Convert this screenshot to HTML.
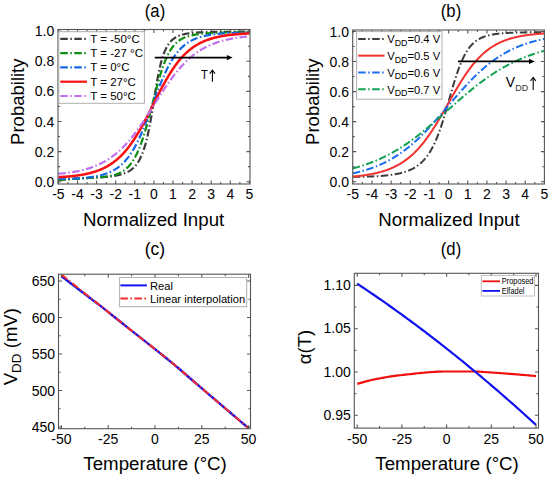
<!DOCTYPE html><html><head><meta charset="utf-8"><style>html,body{margin:0;padding:0;background:#fff;overflow:hidden;width:550px;height:479px;}svg{display:block;}</style></head><body><svg width="550" height="479" viewBox="0 0 550 479" font-family='"Liberation Sans", sans-serif'>
<rect width="550" height="479" fill="#fff"/>
<clipPath id="ca"><rect x="58" y="29.5" width="192" height="154.5"/></clipPath>
<g clip-path="url(#ca)">
<path d="M58.4,179.92 L59.2,179.85 L60,179.79 L60.8,179.73 L61.6,179.66 L62.4,179.6 L63.19,179.54 L63.99,179.47 L64.79,179.41 L65.59,179.35 L66.39,179.29 L67.19,179.23 L67.99,179.17 L68.79,179.12 L69.59,179.06 L70.39,179 L71.19,178.95 L71.99,178.89 L72.78,178.84 L73.58,178.79 L74.38,178.74 L75.18,178.69 L75.98,178.64 L76.78,178.59 L77.58,178.55 L78.38,178.5 L79.18,178.45 L79.98,178.41 L80.78,178.37 L81.58,178.32 L82.37,178.28 L83.17,178.24 L83.97,178.2 L84.77,178.16 L85.57,178.12 L86.37,178.08 L87.17,178.04 L87.97,178 L88.77,177.96 L89.57,177.92 L90.37,177.88 L91.17,177.84 L91.96,177.8 L92.76,177.76 L93.56,177.72 L94.36,177.68 L95.16,177.64 L95.96,177.59 L96.76,177.55 L97.56,177.5 L98.36,177.45 L99.16,177.4 L99.96,177.35 L100.76,177.3 L101.55,177.24 L102.35,177.19 L103.15,177.12 L103.95,177.06 L104.75,177 L105.55,176.93 L106.35,176.85 L107.15,176.78 L107.95,176.7 L108.75,176.61 L109.55,176.52 L110.35,176.43 L111.14,176.33 L111.94,176.22 L112.74,176.11 L113.54,175.99 L114.34,175.87 L115.14,175.73 L115.94,175.59 L116.74,175.44 L117.54,175.28 L118.34,175.11 L119.14,174.93 L119.94,174.74 L120.73,174.53 L121.53,174.31 L122.33,174.07 L123.13,173.81 L123.93,173.53 L124.73,173.24 L125.53,172.91 L126.33,172.57 L127.13,172.19 L127.93,171.79 L128.73,171.35 L129.53,170.87 L130.32,170.35 L131.12,169.79 L131.92,169.18 L132.72,168.51 L133.52,167.78 L134.32,166.99 L135.12,166.13 L135.92,165.18 L136.72,164.15 L137.52,163.02 L138.32,161.79 L139.12,160.44 L139.91,158.96 L140.71,157.34 L141.51,155.57 L142.31,153.63 L143.11,151.52 L143.91,149.21 L144.71,146.69 L145.51,143.95 L146.31,140.98 L147.11,137.76 L147.91,134.3 L148.71,130.57 L149.5,126.59 L150.3,122.36 L151.1,117.9 L151.9,113.21 L152.7,108.33 L153.5,103.31 L154.3,98.22 L155.1,93.15 L155.9,88.19 L156.7,83.41 L157.5,78.88 L158.3,74.64 L159.09,70.73 L159.89,67.13 L160.69,63.85 L161.49,60.85 L162.29,58.13 L163.09,55.66 L163.89,53.44 L164.69,51.42 L165.49,49.61 L166.29,47.97 L167.09,46.5 L167.89,45.17 L168.68,43.98 L169.48,42.9 L170.28,41.93 L171.08,41.05 L171.88,40.26 L172.68,39.54 L173.48,38.89 L174.28,38.3 L175.08,37.77 L175.88,37.28 L176.68,36.84 L177.48,36.44 L178.27,36.08 L179.07,35.74 L179.87,35.44 L180.67,35.16 L181.47,34.9 L182.27,34.67 L183.07,34.46 L183.87,34.26 L184.67,34.08 L185.47,33.92 L186.27,33.76 L187.07,33.62 L187.86,33.49 L188.66,33.37 L189.46,33.26 L190.26,33.16 L191.06,33.06 L191.86,32.98 L192.66,32.9 L193.46,32.82 L194.26,32.75 L195.06,32.68 L195.86,32.62 L196.66,32.57 L197.45,32.51 L198.25,32.46 L199.05,32.42 L199.85,32.37 L200.65,32.33 L201.45,32.29 L202.25,32.26 L203.05,32.23 L203.85,32.19 L204.65,32.16 L205.45,32.14 L206.25,32.11 L207.04,32.09 L207.84,32.06 L208.64,32.04 L209.44,32.02 L210.24,32 L211.04,31.98 L211.84,31.97 L212.64,31.95 L213.44,31.94 L214.24,31.92 L215.04,31.91 L215.84,31.89 L216.63,31.88 L217.43,31.87 L218.23,31.86 L219.03,31.85 L219.83,31.84 L220.63,31.83 L221.43,31.82 L222.23,31.81 L223.03,31.81 L223.83,31.8 L224.63,31.79 L225.43,31.78 L226.22,31.78 L227.02,31.77 L227.82,31.76 L228.62,31.76 L229.42,31.75 L230.22,31.75 L231.02,31.74 L231.82,31.74 L232.62,31.73 L233.42,31.73 L234.22,31.72 L235.02,31.72 L235.81,31.72 L236.61,31.71 L237.41,31.71 L238.21,31.7 L239.01,31.7 L239.81,31.7 L240.61,31.69 L241.41,31.69 L242.21,31.69 L243.01,31.68 L243.81,31.68 L244.61,31.67 L245.4,31.67 L246.2,31.67 L247,31.66 L247.8,31.66 L248.6,31.66 L249.4,31.65" stroke="#3c3c3c" stroke-width="2.2" fill="none" stroke-dasharray="7.5 2.5 1.5 2.5" stroke-linejoin="round"/>
<path d="M58.4,179.92 L59.2,179.87 L60,179.81 L60.8,179.76 L61.6,179.71 L62.4,179.65 L63.19,179.6 L63.99,179.55 L64.79,179.49 L65.59,179.44 L66.39,179.39 L67.19,179.34 L67.99,179.29 L68.79,179.23 L69.59,179.18 L70.39,179.13 L71.19,179.08 L71.99,179.03 L72.78,178.98 L73.58,178.93 L74.38,178.88 L75.18,178.84 L75.98,178.79 L76.78,178.74 L77.58,178.69 L78.38,178.64 L79.18,178.6 L79.98,178.55 L80.78,178.5 L81.58,178.45 L82.37,178.41 L83.17,178.36 L83.97,178.31 L84.77,178.26 L85.57,178.22 L86.37,178.17 L87.17,178.12 L87.97,178.07 L88.77,178.02 L89.57,177.97 L90.37,177.92 L91.17,177.87 L91.96,177.82 L92.76,177.76 L93.56,177.71 L94.36,177.66 L95.16,177.6 L95.96,177.54 L96.76,177.48 L97.56,177.42 L98.36,177.36 L99.16,177.29 L99.96,177.22 L100.76,177.15 L101.55,177.08 L102.35,177 L103.15,176.92 L103.95,176.83 L104.75,176.74 L105.55,176.64 L106.35,176.53 L107.15,176.42 L107.95,176.3 L108.75,176.17 L109.55,176.03 L110.35,175.88 L111.14,175.72 L111.94,175.55 L112.74,175.36 L113.54,175.16 L114.34,174.94 L115.14,174.71 L115.94,174.45 L116.74,174.18 L117.54,173.88 L118.34,173.55 L119.14,173.21 L119.94,172.83 L120.73,172.42 L121.53,171.99 L122.33,171.52 L123.13,171.01 L123.93,170.46 L124.73,169.88 L125.53,169.25 L126.33,168.57 L127.13,167.85 L127.93,167.07 L128.73,166.23 L129.53,165.34 L130.32,164.38 L131.12,163.36 L131.92,162.26 L132.72,161.09 L133.52,159.85 L134.32,158.52 L135.12,157.1 L135.92,155.6 L136.72,154 L137.52,152.31 L138.32,150.52 L139.12,148.63 L139.91,146.64 L140.71,144.54 L141.51,142.35 L142.31,140.04 L143.11,137.64 L143.91,135.14 L144.71,132.54 L145.51,129.86 L146.31,127.08 L147.11,124.23 L147.91,121.3 L148.71,118.32 L149.5,115.28 L150.3,112.2 L151.1,109.08 L151.9,105.95 L152.7,102.81 L153.5,99.68 L154.3,96.56 L155.1,93.47 L155.9,90.42 L156.7,87.42 L157.5,84.49 L158.3,81.62 L159.09,78.84 L159.89,76.14 L160.69,73.53 L161.49,71.02 L162.29,68.62 L163.09,66.32 L163.89,64.13 L164.69,62.05 L165.49,60.08 L166.29,58.22 L167.09,56.46 L167.89,54.81 L168.68,53.26 L169.48,51.81 L170.28,50.45 L171.08,49.19 L171.88,48.01 L172.68,46.91 L173.48,45.89 L174.28,44.94 L175.08,44.07 L175.88,43.25 L176.68,42.5 L177.48,41.8 L178.27,41.16 L179.07,40.56 L179.87,40.01 L180.67,39.51 L181.47,39.04 L182.27,38.61 L183.07,38.21 L183.87,37.84 L184.67,37.49 L185.47,37.17 L186.27,36.88 L187.07,36.6 L187.86,36.35 L188.66,36.11 L189.46,35.88 L190.26,35.68 L191.06,35.48 L191.86,35.3 L192.66,35.14 L193.46,34.98 L194.26,34.83 L195.06,34.69 L195.86,34.56 L196.66,34.44 L197.45,34.33 L198.25,34.22 L199.05,34.12 L199.85,34.02 L200.65,33.93 L201.45,33.85 L202.25,33.77 L203.05,33.69 L203.85,33.62 L204.65,33.55 L205.45,33.49 L206.25,33.42 L207.04,33.37 L207.84,33.31 L208.64,33.26 L209.44,33.21 L210.24,33.16 L211.04,33.12 L211.84,33.07 L212.64,33.03 L213.44,32.99 L214.24,32.95 L215.04,32.92 L215.84,32.88 L216.63,32.85 L217.43,32.82 L218.23,32.79 L219.03,32.76 L219.83,32.73 L220.63,32.7 L221.43,32.67 L222.23,32.65 L223.03,32.62 L223.83,32.6 L224.63,32.57 L225.43,32.55 L226.22,32.52 L227.02,32.5 L227.82,32.48 L228.62,32.46 L229.42,32.44 L230.22,32.42 L231.02,32.4 L231.82,32.38 L232.62,32.36 L233.42,32.34 L234.22,32.32 L235.02,32.3 L235.81,32.28 L236.61,32.26 L237.41,32.24 L238.21,32.22 L239.01,32.2 L239.81,32.18 L240.61,32.16 L241.41,32.14 L242.21,32.12 L243.01,32.11 L243.81,32.09 L244.61,32.07 L245.4,32.05 L246.2,32.03 L247,32.01 L247.8,31.99 L248.6,31.97 L249.4,31.95" stroke="#0f8f0f" stroke-width="2.2" fill="none" stroke-dasharray="7.5 2.5 1.5 2.5" stroke-linejoin="round"/>
<path d="M58.4,178.75 L59.2,178.76 L60,178.77 L60.8,178.77 L61.6,178.77 L62.4,178.77 L63.19,178.77 L63.99,178.77 L64.79,178.76 L65.59,178.75 L66.39,178.74 L67.19,178.73 L67.99,178.71 L68.79,178.7 L69.59,178.68 L70.39,178.65 L71.19,178.63 L71.99,178.6 L72.78,178.57 L73.58,178.54 L74.38,178.51 L75.18,178.47 L75.98,178.44 L76.78,178.39 L77.58,178.35 L78.38,178.3 L79.18,178.25 L79.98,178.2 L80.78,178.14 L81.58,178.08 L82.37,178.02 L83.17,177.96 L83.97,177.89 L84.77,177.81 L85.57,177.73 L86.37,177.65 L87.17,177.57 L87.97,177.48 L88.77,177.38 L89.57,177.28 L90.37,177.18 L91.17,177.07 L91.96,176.95 L92.76,176.83 L93.56,176.7 L94.36,176.57 L95.16,176.42 L95.96,176.28 L96.76,176.12 L97.56,175.96 L98.36,175.79 L99.16,175.61 L99.96,175.42 L100.76,175.22 L101.55,175.01 L102.35,174.8 L103.15,174.57 L103.95,174.33 L104.75,174.07 L105.55,173.81 L106.35,173.53 L107.15,173.24 L107.95,172.93 L108.75,172.61 L109.55,172.27 L110.35,171.91 L111.14,171.54 L111.94,171.15 L112.74,170.73 L113.54,170.3 L114.34,169.85 L115.14,169.37 L115.94,168.86 L116.74,168.34 L117.54,167.78 L118.34,167.2 L119.14,166.59 L119.94,165.95 L120.73,165.27 L121.53,164.57 L122.33,163.83 L123.13,163.06 L123.93,162.25 L124.73,161.4 L125.53,160.51 L126.33,159.58 L127.13,158.62 L127.93,157.6 L128.73,156.55 L129.53,155.45 L130.32,154.3 L131.12,153.11 L131.92,151.87 L132.72,150.58 L133.52,149.24 L134.32,147.86 L135.12,146.42 L135.92,144.93 L136.72,143.39 L137.52,141.81 L138.32,140.17 L139.12,138.49 L139.91,136.76 L140.71,134.98 L141.51,133.15 L142.31,131.29 L143.11,129.38 L143.91,127.43 L144.71,125.44 L145.51,123.43 L146.31,121.38 L147.11,119.3 L147.91,117.19 L148.71,115.07 L149.5,112.92 L150.3,110.77 L151.1,108.6 L151.9,106.43 L152.7,104.25 L153.5,102.08 L154.3,99.91 L155.1,97.75 L155.9,95.61 L156.7,93.48 L157.5,91.38 L158.3,89.3 L159.09,87.25 L159.89,85.23 L160.69,83.24 L161.49,81.3 L162.29,79.39 L163.09,77.52 L163.89,75.7 L164.69,73.92 L165.49,72.2 L166.29,70.51 L167.09,68.88 L167.89,67.3 L168.68,65.77 L169.48,64.29 L170.28,62.86 L171.08,61.48 L171.88,60.15 L172.68,58.87 L173.48,57.64 L174.28,56.46 L175.08,55.33 L175.88,54.24 L176.68,53.2 L177.48,52.2 L178.27,51.24 L179.07,50.33 L179.87,49.46 L180.67,48.63 L181.47,47.83 L182.27,47.07 L183.07,46.35 L183.87,45.66 L184.67,45.01 L185.47,44.38 L186.27,43.79 L187.07,43.23 L187.86,42.69 L188.66,42.18 L189.46,41.69 L190.26,41.23 L191.06,40.79 L191.86,40.37 L192.66,39.98 L193.46,39.6 L194.26,39.25 L195.06,38.91 L195.86,38.58 L196.66,38.28 L197.45,37.99 L198.25,37.71 L199.05,37.45 L199.85,37.2 L200.65,36.96 L201.45,36.74 L202.25,36.52 L203.05,36.32 L203.85,36.13 L204.65,35.94 L205.45,35.77 L206.25,35.6 L207.04,35.45 L207.84,35.3 L208.64,35.15 L209.44,35.02 L210.24,34.89 L211.04,34.77 L211.84,34.65 L212.64,34.54 L213.44,34.44 L214.24,34.34 L215.04,34.24 L215.84,34.15 L216.63,34.06 L217.43,33.98 L218.23,33.9 L219.03,33.83 L219.83,33.76 L220.63,33.69 L221.43,33.63 L222.23,33.57 L223.03,33.51 L223.83,33.46 L224.63,33.4 L225.43,33.36 L226.22,33.31 L227.02,33.26 L227.82,33.22 L228.62,33.18 L229.42,33.15 L230.22,33.11 L231.02,33.08 L231.82,33.05 L232.62,33.02 L233.42,32.99 L234.22,32.96 L235.02,32.94 L235.81,32.92 L236.61,32.9 L237.41,32.88 L238.21,32.86 L239.01,32.84 L239.81,32.83 L240.61,32.81 L241.41,32.8 L242.21,32.79 L243.01,32.78 L243.81,32.77 L244.61,32.76 L245.4,32.76 L246.2,32.75 L247,32.75 L247.8,32.75 L248.6,32.75 L249.4,32.75" stroke="#1668e6" stroke-width="2.2" fill="none" stroke-dasharray="7.5 2.5 1.5 2.5" stroke-linejoin="round"/>
<path d="M58.4,177.08 L59.2,177.05 L60,177.01 L60.8,176.98 L61.6,176.94 L62.4,176.9 L63.19,176.85 L63.99,176.8 L64.79,176.75 L65.59,176.7 L66.39,176.64 L67.19,176.58 L67.99,176.52 L68.79,176.45 L69.59,176.38 L70.39,176.31 L71.19,176.23 L71.99,176.15 L72.78,176.07 L73.58,175.98 L74.38,175.89 L75.18,175.79 L75.98,175.69 L76.78,175.58 L77.58,175.47 L78.38,175.36 L79.18,175.24 L79.98,175.12 L80.78,174.99 L81.58,174.86 L82.37,174.72 L83.17,174.57 L83.97,174.42 L84.77,174.26 L85.57,174.1 L86.37,173.93 L87.17,173.75 L87.97,173.57 L88.77,173.38 L89.57,173.18 L90.37,172.98 L91.17,172.76 L91.96,172.54 L92.76,172.31 L93.56,172.07 L94.36,171.83 L95.16,171.57 L95.96,171.3 L96.76,171.03 L97.56,170.74 L98.36,170.44 L99.16,170.14 L99.96,169.82 L100.76,169.48 L101.55,169.14 L102.35,168.78 L103.15,168.41 L103.95,168.03 L104.75,167.63 L105.55,167.22 L106.35,166.8 L107.15,166.36 L107.95,165.9 L108.75,165.43 L109.55,164.94 L110.35,164.43 L111.14,163.91 L111.94,163.36 L112.74,162.8 L113.54,162.22 L114.34,161.62 L115.14,161 L115.94,160.36 L116.74,159.7 L117.54,159.02 L118.34,158.32 L119.14,157.59 L119.94,156.84 L120.73,156.06 L121.53,155.27 L122.33,154.45 L123.13,153.6 L123.93,152.73 L124.73,151.83 L125.53,150.91 L126.33,149.96 L127.13,148.99 L127.93,147.99 L128.73,146.96 L129.53,145.91 L130.32,144.83 L131.12,143.72 L131.92,142.59 L132.72,141.43 L133.52,140.25 L134.32,139.04 L135.12,137.8 L135.92,136.54 L136.72,135.25 L137.52,133.94 L138.32,132.6 L139.12,131.25 L139.91,129.86 L140.71,128.46 L141.51,127.04 L142.31,125.6 L143.11,124.14 L143.91,122.66 L144.71,121.16 L145.51,119.65 L146.31,118.12 L147.11,116.58 L147.91,115.03 L148.71,113.47 L149.5,111.91 L150.3,110.33 L151.1,108.75 L151.9,107.16 L152.7,105.57 L153.5,103.99 L154.3,102.4 L155.1,100.81 L155.9,99.23 L156.7,97.65 L157.5,96.08 L158.3,94.52 L159.09,92.97 L159.89,91.43 L160.69,89.9 L161.49,88.39 L162.29,86.89 L163.09,85.41 L163.89,83.94 L164.69,82.5 L165.49,81.08 L166.29,79.67 L167.09,78.29 L167.89,76.93 L168.68,75.6 L169.48,74.29 L170.28,73 L171.08,71.74 L171.88,70.5 L172.68,69.3 L173.48,68.11 L174.28,66.96 L175.08,65.83 L175.88,64.73 L176.68,63.66 L177.48,62.61 L178.27,61.59 L179.07,60.6 L179.87,59.63 L180.67,58.7 L181.47,57.78 L182.27,56.9 L183.07,56.04 L183.87,55.2 L184.67,54.4 L185.47,53.61 L186.27,52.85 L187.07,52.12 L187.86,51.41 L188.66,50.72 L189.46,50.05 L190.26,49.41 L191.06,48.78 L191.86,48.18 L192.66,47.6 L193.46,47.04 L194.26,46.5 L195.06,45.98 L195.86,45.47 L196.66,44.99 L197.45,44.52 L198.25,44.06 L199.05,43.63 L199.85,43.21 L200.65,42.8 L201.45,42.41 L202.25,42.04 L203.05,41.67 L203.85,41.33 L204.65,40.99 L205.45,40.67 L206.25,40.36 L207.04,40.06 L207.84,39.77 L208.64,39.49 L209.44,39.22 L210.24,38.97 L211.04,38.72 L211.84,38.48 L212.64,38.25 L213.44,38.03 L214.24,37.82 L215.04,37.62 L215.84,37.42 L216.63,37.23 L217.43,37.05 L218.23,36.88 L219.03,36.71 L219.83,36.55 L220.63,36.39 L221.43,36.24 L222.23,36.1 L223.03,35.96 L223.83,35.83 L224.63,35.7 L225.43,35.58 L226.22,35.46 L227.02,35.34 L227.82,35.24 L228.62,35.13 L229.42,35.03 L230.22,34.93 L231.02,34.84 L231.82,34.75 L232.62,34.66 L233.42,34.58 L234.22,34.5 L235.02,34.42 L235.81,34.35 L236.61,34.28 L237.41,34.21 L238.21,34.15 L239.01,34.08 L239.81,34.02 L240.61,33.96 L241.41,33.91 L242.21,33.86 L243.01,33.8 L243.81,33.75 L244.61,33.71 L245.4,33.66 L246.2,33.62 L247,33.58 L247.8,33.54 L248.6,33.5 L249.4,33.46" stroke="#fa1010" stroke-width="2.5" fill="none" stroke-linejoin="round"/>
<path d="M58.4,173.74 L59.2,173.68 L60,173.62 L60.8,173.55 L61.6,173.48 L62.4,173.41 L63.19,173.33 L63.99,173.25 L64.79,173.16 L65.59,173.08 L66.39,172.98 L67.19,172.89 L67.99,172.79 L68.79,172.68 L69.59,172.57 L70.39,172.46 L71.19,172.34 L71.99,172.22 L72.78,172.09 L73.58,171.96 L74.38,171.82 L75.18,171.68 L75.98,171.53 L76.78,171.38 L77.58,171.22 L78.38,171.06 L79.18,170.89 L79.98,170.71 L80.78,170.53 L81.58,170.34 L82.37,170.15 L83.17,169.95 L83.97,169.74 L84.77,169.53 L85.57,169.31 L86.37,169.08 L87.17,168.85 L87.97,168.61 L88.77,168.36 L89.57,168.1 L90.37,167.84 L91.17,167.56 L91.96,167.28 L92.76,166.99 L93.56,166.69 L94.36,166.38 L95.16,166.06 L95.96,165.74 L96.76,165.4 L97.56,165.05 L98.36,164.69 L99.16,164.33 L99.96,163.95 L100.76,163.56 L101.55,163.16 L102.35,162.74 L103.15,162.32 L103.95,161.88 L104.75,161.43 L105.55,160.97 L106.35,160.5 L107.15,160.01 L107.95,159.51 L108.75,159 L109.55,158.47 L110.35,157.92 L111.14,157.37 L111.94,156.8 L112.74,156.21 L113.54,155.61 L114.34,154.99 L115.14,154.36 L115.94,153.71 L116.74,153.05 L117.54,152.37 L118.34,151.68 L119.14,150.96 L119.94,150.23 L120.73,149.49 L121.53,148.73 L122.33,147.95 L123.13,147.15 L123.93,146.34 L124.73,145.51 L125.53,144.66 L126.33,143.79 L127.13,142.91 L127.93,142.01 L128.73,141.09 L129.53,140.16 L130.32,139.21 L131.12,138.24 L131.92,137.25 L132.72,136.25 L133.52,135.23 L134.32,134.2 L135.12,133.15 L135.92,132.09 L136.72,131.01 L137.52,129.91 L138.32,128.8 L139.12,127.68 L139.91,126.54 L140.71,125.39 L141.51,124.23 L142.31,123.06 L143.11,121.88 L143.91,120.68 L144.71,119.48 L145.51,118.26 L146.31,117.04 L147.11,115.81 L147.91,114.57 L148.71,113.33 L149.5,112.08 L150.3,110.82 L151.1,109.56 L151.9,108.3 L152.7,107.04 L153.5,105.77 L154.3,104.51 L155.1,103.24 L155.9,101.98 L156.7,100.71 L157.5,99.45 L158.3,98.19 L159.09,96.94 L159.89,95.69 L160.69,94.45 L161.49,93.22 L162.29,91.99 L163.09,90.77 L163.89,89.56 L164.69,88.36 L165.49,87.17 L166.29,85.99 L167.09,84.82 L167.89,83.66 L168.68,82.52 L169.48,81.39 L170.28,80.27 L171.08,79.17 L171.88,78.08 L172.68,77.01 L173.48,75.95 L174.28,74.91 L175.08,73.89 L175.88,72.88 L176.68,71.88 L177.48,70.91 L178.27,69.95 L179.07,69.01 L179.87,68.09 L180.67,67.18 L181.47,66.29 L182.27,65.42 L183.07,64.57 L183.87,63.73 L184.67,62.91 L185.47,62.11 L186.27,61.33 L187.07,60.56 L187.86,59.82 L188.66,59.08 L189.46,58.37 L190.26,57.67 L191.06,56.99 L191.86,56.33 L192.66,55.68 L193.46,55.05 L194.26,54.43 L195.06,53.83 L195.86,53.25 L196.66,52.68 L197.45,52.12 L198.25,51.58 L199.05,51.06 L199.85,50.54 L200.65,50.05 L201.45,49.56 L202.25,49.09 L203.05,48.63 L203.85,48.19 L204.65,47.76 L205.45,47.34 L206.25,46.93 L207.04,46.53 L207.84,46.15 L208.64,45.77 L209.44,45.41 L210.24,45.06 L211.04,44.71 L211.84,44.38 L212.64,44.06 L213.44,43.75 L214.24,43.44 L215.04,43.15 L215.84,42.86 L216.63,42.58 L217.43,42.32 L218.23,42.06 L219.03,41.8 L219.83,41.56 L220.63,41.32 L221.43,41.09 L222.23,40.87 L223.03,40.65 L223.83,40.44 L224.63,40.24 L225.43,40.04 L226.22,39.85 L227.02,39.67 L227.82,39.49 L228.62,39.31 L229.42,39.15 L230.22,38.98 L231.02,38.83 L231.82,38.67 L232.62,38.53 L233.42,38.38 L234.22,38.25 L235.02,38.11 L235.81,37.98 L236.61,37.86 L237.41,37.74 L238.21,37.62 L239.01,37.51 L239.81,37.4 L240.61,37.29 L241.41,37.19 L242.21,37.09 L243.01,37 L243.81,36.9 L244.61,36.81 L245.4,36.73 L246.2,36.65 L247,36.57 L247.8,36.49 L248.6,36.42 L249.4,36.34" stroke="#c070f0" stroke-width="2.2" fill="none" stroke-dasharray="7.5 2.5 1.5 2.5" stroke-linejoin="round"/>
</g>
<rect x="58" y="29.5" width="192" height="154.5" fill="none" stroke="#555555" stroke-width="1.1"/>
<path d="M58.4,184v-3.5M58.4,29.5v3.5M77.5,184v-3.5M77.5,29.5v3.5M96.6,184v-3.5M96.6,29.5v3.5M115.7,184v-3.5M115.7,29.5v3.5M134.8,184v-3.5M134.8,29.5v3.5M153.9,184v-3.5M153.9,29.5v3.5M173,184v-3.5M173,29.5v3.5M192.1,184v-3.5M192.1,29.5v3.5M211.2,184v-3.5M211.2,29.5v3.5M230.3,184v-3.5M230.3,29.5v3.5M249.4,184v-3.5M249.4,29.5v3.5M67.95,184v-2M67.95,29.5v2M87.05,184v-2M87.05,29.5v2M106.15,184v-2M106.15,29.5v2M125.25,184v-2M125.25,29.5v2M144.35,184v-2M144.35,29.5v2M163.45,184v-2M163.45,29.5v2M182.55,184v-2M182.55,29.5v2M201.65,184v-2M201.65,29.5v2M220.75,184v-2M220.75,29.5v2M239.85,184v-2M239.85,29.5v2M58,181.7h3.5M250,181.7h-3.5M58,151.6h3.5M250,151.6h-3.5M58,121.5h3.5M250,121.5h-3.5M58,91.4h3.5M250,91.4h-3.5M58,61.3h3.5M250,61.3h-3.5M58,31.2h3.5M250,31.2h-3.5M58,166.65h2M250,166.65h-2M58,136.55h2M250,136.55h-2M58,106.45h2M250,106.45h-2M58,76.35h2M250,76.35h-2M58,46.25h2M250,46.25h-2" stroke="#555555" stroke-width="1.1" fill="none"/>
<text x="58.4" y="199.3" font-size="14" text-anchor="middle" fill="#000" >-5</text>
<text x="77.5" y="199.3" font-size="14" text-anchor="middle" fill="#000" >-4</text>
<text x="96.6" y="199.3" font-size="14" text-anchor="middle" fill="#000" >-3</text>
<text x="115.7" y="199.3" font-size="14" text-anchor="middle" fill="#000" >-2</text>
<text x="134.8" y="199.3" font-size="14" text-anchor="middle" fill="#000" >-1</text>
<text x="153.9" y="199.3" font-size="14" text-anchor="middle" fill="#000" >0</text>
<text x="173" y="199.3" font-size="14" text-anchor="middle" fill="#000" >1</text>
<text x="192.1" y="199.3" font-size="14" text-anchor="middle" fill="#000" >2</text>
<text x="211.2" y="199.3" font-size="14" text-anchor="middle" fill="#000" >3</text>
<text x="230.3" y="199.3" font-size="14" text-anchor="middle" fill="#000" >4</text>
<text x="249.4" y="199.3" font-size="14" text-anchor="middle" fill="#000" >5</text>
<text x="54.3" y="186.7" font-size="14" text-anchor="end" fill="#000" >0.0</text>
<text x="54.3" y="156.6" font-size="14" text-anchor="end" fill="#000" >0.2</text>
<text x="54.3" y="126.5" font-size="14" text-anchor="end" fill="#000" >0.4</text>
<text x="54.3" y="96.4" font-size="14" text-anchor="end" fill="#000" >0.6</text>
<text x="54.3" y="66.3" font-size="14" text-anchor="end" fill="#000" >0.8</text>
<text x="54.3" y="36.2" font-size="14" text-anchor="end" fill="#000" >1.0</text>
<text x="153.6" y="225.5" font-size="18.7" text-anchor="middle" fill="#000" >Normalized Input</text>
<text transform="translate(23.5,101.7) rotate(-90)" font-size="18.5" text-anchor="middle">Probability</text>
<text x="155" y="16.9" font-size="18" text-anchor="middle" fill="#000" textLength="20.4" lengthAdjust="spacingAndGlyphs">(a)</text>
<rect x="58.8" y="31.7" width="85.6" height="71.6" fill="#fff" stroke="#b0b0b0" stroke-width="1"/>
<path d="M60.3,38.8H87" stroke="#3c3c3c" stroke-width="2.2" stroke-dasharray="7.5 2.5 1.5 2.5"/>
<text x="90.3" y="42.8" font-size="11.5" text-anchor="start" fill="#000" >T = -50°C</text>
<path d="M60.3,53.1H87" stroke="#0f8f0f" stroke-width="2.2" stroke-dasharray="7.5 2.5 1.5 2.5"/>
<text x="90.3" y="57.1" font-size="11.5" text-anchor="start" fill="#000" >T = -27 °C</text>
<path d="M60.3,67.4H87" stroke="#1668e6" stroke-width="2.2" stroke-dasharray="7.5 2.5 1.5 2.5"/>
<text x="90.3" y="71.4" font-size="11.5" text-anchor="start" fill="#000" >T = 0°C</text>
<path d="M60.3,81.7H87" stroke="#fa1010" stroke-width="2.2"/>
<text x="90.3" y="85.7" font-size="11.5" text-anchor="start" fill="#000" >T = 27°C</text>
<path d="M60.3,96H87" stroke="#c070f0" stroke-width="2.2" stroke-dasharray="7.5 2.5 1.5 2.5"/>
<text x="90.3" y="100" font-size="11.5" text-anchor="start" fill="#000" >T = 50°C</text>
<path d="M154.8,57.6H228" stroke="#000" stroke-width="1.9"/>
<path d="M226.8,55L232.6,57.6L226.8,60.2Z" fill="#000"/>
<text x="201" y="78.8" font-size="13.5" text-anchor="start" fill="#000" textLength="6.8" lengthAdjust="spacingAndGlyphs">T</text>
<path d="M212.4,81.8V71" stroke="#000" stroke-width="1.1"/><path d="M209.8,73.6L212.4,70.2L215,73.6" stroke="#000" stroke-width="1.1" fill="none"/>
<clipPath id="cb"><rect x="352.7" y="30" width="191.7" height="154"/></clipPath>
<g clip-path="url(#cb)">
<path d="M352.8,176.73 L353.6,176.73 L354.4,176.73 L355.21,176.73 L356.01,176.72 L356.81,176.72 L357.61,176.72 L358.41,176.71 L359.21,176.71 L360.02,176.7 L360.82,176.69 L361.62,176.68 L362.42,176.67 L363.22,176.66 L364.02,176.65 L364.83,176.63 L365.63,176.62 L366.43,176.6 L367.23,176.58 L368.03,176.56 L368.83,176.54 L369.64,176.51 L370.44,176.49 L371.24,176.46 L372.04,176.43 L372.84,176.4 L373.64,176.36 L374.45,176.33 L375.25,176.29 L376.05,176.25 L376.85,176.2 L377.65,176.16 L378.45,176.11 L379.26,176.06 L380.06,176 L380.86,175.94 L381.66,175.88 L382.46,175.82 L383.26,175.75 L384.07,175.68 L384.87,175.61 L385.67,175.53 L386.47,175.45 L387.27,175.36 L388.07,175.27 L388.88,175.18 L389.68,175.08 L390.48,174.97 L391.28,174.86 L392.08,174.75 L392.88,174.63 L393.69,174.5 L394.49,174.37 L395.29,174.23 L396.09,174.08 L396.89,173.92 L397.69,173.76 L398.5,173.59 L399.3,173.41 L400.1,173.23 L400.9,173.03 L401.7,172.82 L402.5,172.61 L403.31,172.38 L404.11,172.14 L404.91,171.89 L405.71,171.62 L406.51,171.35 L407.31,171.05 L408.12,170.75 L408.92,170.42 L409.72,170.08 L410.52,169.73 L411.32,169.35 L412.12,168.96 L412.93,168.54 L413.73,168.1 L414.53,167.64 L415.33,167.15 L416.13,166.64 L416.93,166.1 L417.74,165.53 L418.54,164.93 L419.34,164.3 L420.14,163.63 L420.94,162.93 L421.74,162.19 L422.55,161.4 L423.35,160.58 L424.15,159.71 L424.95,158.8 L425.75,157.83 L426.55,156.82 L427.36,155.74 L428.16,154.62 L428.96,153.43 L429.76,152.18 L430.56,150.86 L431.36,149.48 L432.17,148.03 L432.97,146.5 L433.77,144.9 L434.57,143.22 L435.37,141.46 L436.17,139.62 L436.98,137.7 L437.78,135.7 L438.58,133.61 L439.38,131.43 L440.18,129.17 L440.98,126.83 L441.79,124.41 L442.59,121.92 L443.39,119.36 L444.19,116.74 L444.99,114.07 L445.79,111.34 L446.6,108.58 L447.4,105.79 L448.2,102.98 L449,100.16 L449.8,97.33 L450.6,94.52 L451.41,91.73 L452.21,88.97 L453.01,86.24 L453.81,83.57 L454.61,80.95 L455.41,78.39 L456.22,75.91 L457.02,73.5 L457.82,71.17 L458.62,68.93 L459.42,66.78 L460.22,64.72 L461.03,62.75 L461.83,60.87 L462.63,59.09 L463.43,57.4 L464.23,55.79 L465.03,54.28 L465.84,52.86 L466.64,51.52 L467.44,50.26 L468.24,49.08 L469.04,47.97 L469.84,46.94 L470.65,45.97 L471.45,45.07 L472.25,44.23 L473.05,43.44 L473.85,42.71 L474.65,42.02 L475.46,41.39 L476.26,40.79 L477.06,40.24 L477.86,39.72 L478.66,39.24 L479.46,38.79 L480.27,38.37 L481.07,37.98 L481.87,37.61 L482.67,37.27 L483.47,36.95 L484.27,36.65 L485.08,36.38 L485.88,36.12 L486.68,35.87 L487.48,35.65 L488.28,35.43 L489.08,35.24 L489.89,35.05 L490.69,34.88 L491.49,34.71 L492.29,34.56 L493.09,34.42 L493.89,34.28 L494.7,34.16 L495.5,34.04 L496.3,33.93 L497.1,33.83 L497.9,33.73 L498.7,33.64 L499.51,33.55 L500.31,33.47 L501.11,33.39 L501.91,33.32 L502.71,33.26 L503.51,33.19 L504.32,33.13 L505.12,33.08 L505.92,33.02 L506.72,32.97 L507.52,32.93 L508.32,32.88 L509.13,32.84 L509.93,32.8 L510.73,32.77 L511.53,32.73 L512.33,32.7 L513.13,32.67 L513.94,32.64 L514.74,32.61 L515.54,32.59 L516.34,32.56 L517.14,32.54 L517.94,32.52 L518.75,32.5 L519.55,32.48 L520.35,32.47 L521.15,32.45 L521.95,32.44 L522.75,32.42 L523.56,32.41 L524.36,32.4 L525.16,32.39 L525.96,32.38 L526.76,32.37 L527.56,32.37 L528.37,32.36 L529.17,32.36 L529.97,32.35 L530.77,32.35 L531.57,32.34 L532.37,32.34 L533.18,32.34 L533.98,32.34 L534.78,32.34 L535.58,32.34 L536.38,32.35 L537.18,32.35 L537.99,32.36 L538.79,32.36 L539.59,32.37 L540.39,32.37 L541.19,32.38 L541.99,32.39 L542.8,32.4 L543.6,32.41 L544.4,32.43" stroke="#3c3c3c" stroke-width="2.0" fill="none" stroke-dasharray="7.5 2.5 1.5 2.5" stroke-linejoin="round"/>
<path d="M352.8,176.63 L353.6,176.56 L354.4,176.48 L355.21,176.41 L356.01,176.33 L356.81,176.24 L357.61,176.16 L358.41,176.07 L359.21,175.98 L360.02,175.88 L360.82,175.78 L361.62,175.68 L362.42,175.58 L363.22,175.47 L364.02,175.35 L364.83,175.24 L365.63,175.12 L366.43,174.99 L367.23,174.86 L368.03,174.73 L368.83,174.59 L369.64,174.45 L370.44,174.3 L371.24,174.15 L372.04,174 L372.84,173.83 L373.64,173.67 L374.45,173.5 L375.25,173.32 L376.05,173.13 L376.85,172.94 L377.65,172.75 L378.45,172.54 L379.26,172.33 L380.06,172.12 L380.86,171.89 L381.66,171.66 L382.46,171.43 L383.26,171.18 L384.07,170.93 L384.87,170.67 L385.67,170.4 L386.47,170.12 L387.27,169.83 L388.07,169.53 L388.88,169.23 L389.68,168.91 L390.48,168.59 L391.28,168.25 L392.08,167.9 L392.88,167.55 L393.69,167.18 L394.49,166.8 L395.29,166.41 L396.09,166 L396.89,165.59 L397.69,165.16 L398.5,164.72 L399.3,164.26 L400.1,163.79 L400.9,163.31 L401.7,162.81 L402.5,162.3 L403.31,161.77 L404.11,161.23 L404.91,160.67 L405.71,160.1 L406.51,159.5 L407.31,158.9 L408.12,158.27 L408.92,157.63 L409.72,156.97 L410.52,156.29 L411.32,155.59 L412.12,154.88 L412.93,154.15 L413.73,153.39 L414.53,152.62 L415.33,151.83 L416.13,151.01 L416.93,150.18 L417.74,149.33 L418.54,148.46 L419.34,147.56 L420.14,146.65 L420.94,145.71 L421.74,144.76 L422.55,143.78 L423.35,142.79 L424.15,141.77 L424.95,140.73 L425.75,139.67 L426.55,138.59 L427.36,137.49 L428.16,136.37 L428.96,135.23 L429.76,134.08 L430.56,132.9 L431.36,131.7 L432.17,130.49 L432.97,129.26 L433.77,128.01 L434.57,126.75 L435.37,125.47 L436.17,124.17 L436.98,122.86 L437.78,121.54 L438.58,120.2 L439.38,118.85 L440.18,117.49 L440.98,116.12 L441.79,114.74 L442.59,113.35 L443.39,111.96 L444.19,110.56 L444.99,109.15 L445.79,107.74 L446.6,106.32 L447.4,104.91 L448.2,103.49 L449,102.07 L449.8,100.66 L450.6,99.24 L451.41,97.83 L452.21,96.43 L453.01,95.03 L453.81,93.63 L454.61,92.25 L455.41,90.87 L456.22,89.5 L457.02,88.15 L457.82,86.8 L458.62,85.47 L459.42,84.15 L460.22,82.85 L461.03,81.56 L461.83,80.28 L462.63,79.02 L463.43,77.78 L464.23,76.56 L465.03,75.36 L465.84,74.17 L466.64,73.01 L467.44,71.86 L468.24,70.74 L469.04,69.63 L469.84,68.55 L470.65,67.48 L471.45,66.44 L472.25,65.42 L473.05,64.42 L473.85,63.45 L474.65,62.49 L475.46,61.56 L476.26,60.65 L477.06,59.76 L477.86,58.89 L478.66,58.05 L479.46,57.22 L480.27,56.42 L481.07,55.63 L481.87,54.87 L482.67,54.13 L483.47,53.41 L484.27,52.71 L485.08,52.03 L485.88,51.37 L486.68,50.72 L487.48,50.1 L488.28,49.49 L489.08,48.91 L489.89,48.34 L490.69,47.79 L491.49,47.25 L492.29,46.73 L493.09,46.23 L493.89,45.74 L494.7,45.27 L495.5,44.81 L496.3,44.37 L497.1,43.95 L497.9,43.53 L498.7,43.13 L499.51,42.75 L500.31,42.37 L501.11,42.01 L501.91,41.66 L502.71,41.32 L503.51,41 L504.32,40.68 L505.12,40.38 L505.92,40.08 L506.72,39.8 L507.52,39.53 L508.32,39.26 L509.13,39.01 L509.93,38.76 L510.73,38.52 L511.53,38.29 L512.33,38.07 L513.13,37.85 L513.94,37.65 L514.74,37.45 L515.54,37.26 L516.34,37.07 L517.14,36.89 L517.94,36.72 L518.75,36.55 L519.55,36.39 L520.35,36.24 L521.15,36.09 L521.95,35.94 L522.75,35.8 L523.56,35.67 L524.36,35.54 L525.16,35.41 L525.96,35.29 L526.76,35.18 L527.56,35.06 L528.37,34.95 L529.17,34.85 L529.97,34.75 L530.77,34.65 L531.57,34.56 L532.37,34.47 L533.18,34.38 L533.98,34.3 L534.78,34.21 L535.58,34.14 L536.38,34.06 L537.18,33.99 L537.99,33.92 L538.79,33.85 L539.59,33.78 L540.39,33.72 L541.19,33.66 L541.99,33.6 L542.8,33.54 L543.6,33.49 L544.4,33.43" stroke="#f23030" stroke-width="2.0" fill="none" stroke-linejoin="round"/>
<path d="M352.8,173.38 L353.6,173.21 L354.4,173.03 L355.21,172.85 L356.01,172.66 L356.81,172.47 L357.61,172.27 L358.41,172.07 L359.21,171.87 L360.02,171.66 L360.82,171.45 L361.62,171.23 L362.42,171.01 L363.22,170.78 L364.02,170.55 L364.83,170.31 L365.63,170.07 L366.43,169.83 L367.23,169.57 L368.03,169.32 L368.83,169.05 L369.64,168.79 L370.44,168.51 L371.24,168.23 L372.04,167.95 L372.84,167.66 L373.64,167.36 L374.45,167.06 L375.25,166.75 L376.05,166.43 L376.85,166.11 L377.65,165.78 L378.45,165.44 L379.26,165.1 L380.06,164.75 L380.86,164.4 L381.66,164.03 L382.46,163.66 L383.26,163.29 L384.07,162.9 L384.87,162.51 L385.67,162.11 L386.47,161.7 L387.27,161.29 L388.07,160.87 L388.88,160.44 L389.68,160 L390.48,159.55 L391.28,159.1 L392.08,158.63 L392.88,158.16 L393.69,157.68 L394.49,157.2 L395.29,156.7 L396.09,156.19 L396.89,155.68 L397.69,155.16 L398.5,154.63 L399.3,154.09 L400.1,153.54 L400.9,152.98 L401.7,152.41 L402.5,151.83 L403.31,151.25 L404.11,150.66 L404.91,150.05 L405.71,149.44 L406.51,148.82 L407.31,148.19 L408.12,147.55 L408.92,146.9 L409.72,146.24 L410.52,145.57 L411.32,144.89 L412.12,144.21 L412.93,143.51 L413.73,142.81 L414.53,142.1 L415.33,141.37 L416.13,140.64 L416.93,139.9 L417.74,139.16 L418.54,138.4 L419.34,137.63 L420.14,136.86 L420.94,136.08 L421.74,135.29 L422.55,134.49 L423.35,133.68 L424.15,132.87 L424.95,132.05 L425.75,131.22 L426.55,130.38 L427.36,129.54 L428.16,128.69 L428.96,127.83 L429.76,126.97 L430.56,126.1 L431.36,125.23 L432.17,124.34 L432.97,123.46 L433.77,122.57 L434.57,121.67 L435.37,120.77 L436.17,119.86 L436.98,118.95 L437.78,118.03 L438.58,117.11 L439.38,116.19 L440.18,115.26 L440.98,114.33 L441.79,113.4 L442.59,112.47 L443.39,111.53 L444.19,110.59 L444.99,109.65 L445.79,108.71 L446.6,107.77 L447.4,106.83 L448.2,105.89 L449,104.95 L449.8,104 L450.6,103.06 L451.41,102.12 L452.21,101.18 L453.01,100.25 L453.81,99.31 L454.61,98.38 L455.41,97.45 L456.22,96.52 L457.02,95.59 L457.82,94.67 L458.62,93.76 L459.42,92.84 L460.22,91.93 L461.03,91.03 L461.83,90.13 L462.63,89.23 L463.43,88.34 L464.23,87.46 L465.03,86.58 L465.84,85.71 L466.64,84.84 L467.44,83.98 L468.24,83.13 L469.04,82.28 L469.84,81.44 L470.65,80.61 L471.45,79.78 L472.25,78.96 L473.05,78.15 L473.85,77.35 L474.65,76.56 L475.46,75.77 L476.26,74.99 L477.06,74.23 L477.86,73.46 L478.66,72.71 L479.46,71.97 L480.27,71.23 L481.07,70.51 L481.87,69.79 L482.67,69.08 L483.47,68.39 L484.27,67.7 L485.08,67.02 L485.88,66.35 L486.68,65.68 L487.48,65.03 L488.28,64.39 L489.08,63.75 L489.89,63.13 L490.69,62.51 L491.49,61.91 L492.29,61.31 L493.09,60.72 L493.89,60.14 L494.7,59.57 L495.5,59.01 L496.3,58.46 L497.1,57.92 L497.9,57.39 L498.7,56.86 L499.51,56.35 L500.31,55.84 L501.11,55.34 L501.91,54.85 L502.71,54.37 L503.51,53.9 L504.32,53.44 L505.12,52.98 L505.92,52.54 L506.72,52.1 L507.52,51.67 L508.32,51.24 L509.13,50.83 L509.93,50.42 L510.73,50.02 L511.53,49.63 L512.33,49.25 L513.13,48.87 L513.94,48.5 L514.74,48.14 L515.54,47.79 L516.34,47.44 L517.14,47.1 L517.94,46.76 L518.75,46.44 L519.55,46.12 L520.35,45.8 L521.15,45.49 L521.95,45.19 L522.75,44.9 L523.56,44.61 L524.36,44.32 L525.16,44.05 L525.96,43.78 L526.76,43.51 L527.56,43.25 L528.37,43 L529.17,42.75 L529.97,42.5 L530.77,42.26 L531.57,42.03 L532.37,41.8 L533.18,41.58 L533.98,41.36 L534.78,41.14 L535.58,40.93 L536.38,40.73 L537.18,40.53 L537.99,40.33 L538.79,40.14 L539.59,39.95 L540.39,39.77 L541.19,39.59 L541.99,39.42 L542.8,39.24 L543.6,39.08 L544.4,38.91" stroke="#1a6ef0" stroke-width="2.0" fill="none" stroke-dasharray="7.5 2.5 1.5 2.5" stroke-linejoin="round"/>
<path d="M352.8,168.44 L353.6,168.23 L354.4,168.01 L355.21,167.79 L356.01,167.57 L356.81,167.34 L357.61,167.1 L358.41,166.87 L359.21,166.63 L360.02,166.38 L360.82,166.14 L361.62,165.88 L362.42,165.63 L363.22,165.37 L364.02,165.1 L364.83,164.83 L365.63,164.56 L366.43,164.28 L367.23,164 L368.03,163.71 L368.83,163.42 L369.64,163.12 L370.44,162.82 L371.24,162.52 L372.04,162.21 L372.84,161.89 L373.64,161.57 L374.45,161.25 L375.25,160.92 L376.05,160.59 L376.85,160.25 L377.65,159.9 L378.45,159.55 L379.26,159.2 L380.06,158.84 L380.86,158.47 L381.66,158.1 L382.46,157.72 L383.26,157.34 L384.07,156.96 L384.87,156.56 L385.67,156.17 L386.47,155.76 L387.27,155.35 L388.07,154.94 L388.88,154.52 L389.68,154.1 L390.48,153.67 L391.28,153.23 L392.08,152.79 L392.88,152.34 L393.69,151.89 L394.49,151.43 L395.29,150.96 L396.09,150.49 L396.89,150.02 L397.69,149.53 L398.5,149.05 L399.3,148.55 L400.1,148.06 L400.9,147.55 L401.7,147.04 L402.5,146.53 L403.31,146 L404.11,145.48 L404.91,144.94 L405.71,144.41 L406.51,143.86 L407.31,143.31 L408.12,142.76 L408.92,142.2 L409.72,141.63 L410.52,141.06 L411.32,140.49 L412.12,139.91 L412.93,139.32 L413.73,138.73 L414.53,138.13 L415.33,137.53 L416.13,136.93 L416.93,136.31 L417.74,135.7 L418.54,135.08 L419.34,134.45 L420.14,133.82 L420.94,133.19 L421.74,132.55 L422.55,131.91 L423.35,131.26 L424.15,130.61 L424.95,129.96 L425.75,129.3 L426.55,128.63 L427.36,127.97 L428.16,127.3 L428.96,126.63 L429.76,125.95 L430.56,125.27 L431.36,124.59 L432.17,123.9 L432.97,123.21 L433.77,122.52 L434.57,121.83 L435.37,121.13 L436.17,120.44 L436.98,119.73 L437.78,119.03 L438.58,118.33 L439.38,117.62 L440.18,116.92 L440.98,116.21 L441.79,115.5 L442.59,114.79 L443.39,114.08 L444.19,113.36 L444.99,112.65 L445.79,111.94 L446.6,111.22 L447.4,110.51 L448.2,109.79 L449,109.08 L449.8,108.37 L450.6,107.65 L451.41,106.94 L452.21,106.23 L453.01,105.52 L453.81,104.81 L454.61,104.1 L455.41,103.39 L456.22,102.68 L457.02,101.98 L457.82,101.27 L458.62,100.57 L459.42,99.87 L460.22,99.18 L461.03,98.48 L461.83,97.79 L462.63,97.1 L463.43,96.41 L464.23,95.73 L465.03,95.04 L465.84,94.37 L466.64,93.69 L467.44,93.02 L468.24,92.35 L469.04,91.68 L469.84,91.02 L470.65,90.36 L471.45,89.71 L472.25,89.06 L473.05,88.41 L473.85,87.77 L474.65,87.13 L475.46,86.5 L476.26,85.87 L477.06,85.24 L477.86,84.62 L478.66,84.01 L479.46,83.39 L480.27,82.79 L481.07,82.18 L481.87,81.59 L482.67,80.99 L483.47,80.41 L484.27,79.82 L485.08,79.25 L485.88,78.67 L486.68,78.11 L487.48,77.55 L488.28,76.99 L489.08,76.44 L489.89,75.89 L490.69,75.35 L491.49,74.81 L492.29,74.28 L493.09,73.76 L493.89,73.24 L494.7,72.72 L495.5,72.21 L496.3,71.71 L497.1,71.21 L497.9,70.72 L498.7,70.23 L499.51,69.75 L500.31,69.28 L501.11,68.8 L501.91,68.34 L502.71,67.88 L503.51,67.42 L504.32,66.97 L505.12,66.53 L505.92,66.09 L506.72,65.66 L507.52,65.23 L508.32,64.81 L509.13,64.39 L509.93,63.98 L510.73,63.57 L511.53,63.17 L512.33,62.77 L513.13,62.38 L513.94,62 L514.74,61.62 L515.54,61.24 L516.34,60.87 L517.14,60.5 L517.94,60.14 L518.75,59.79 L519.55,59.44 L520.35,59.09 L521.15,58.75 L521.95,58.41 L522.75,58.08 L523.56,57.75 L524.36,57.43 L525.16,57.11 L525.96,56.8 L526.76,56.49 L527.56,56.18 L528.37,55.88 L529.17,55.59 L529.97,55.3 L530.77,55.01 L531.57,54.73 L532.37,54.45 L533.18,54.17 L533.98,53.9 L534.78,53.64 L535.58,53.37 L536.38,53.11 L537.18,52.86 L537.99,52.61 L538.79,52.36 L539.59,52.12 L540.39,51.88 L541.19,51.65 L541.99,51.41 L542.8,51.19 L543.6,50.96 L544.4,50.74" stroke="#10a050" stroke-width="2.0" fill="none" stroke-dasharray="7.5 2.5 1.5 2.5" stroke-linejoin="round"/>
</g>
<rect x="352.7" y="30" width="191.7" height="154" fill="none" stroke="#555555" stroke-width="1.1"/>
<path d="M352.8,184v-3.5M352.8,30v3.5M371.96,184v-3.5M371.96,30v3.5M391.12,184v-3.5M391.12,30v3.5M410.28,184v-3.5M410.28,30v3.5M429.44,184v-3.5M429.44,30v3.5M448.6,184v-3.5M448.6,30v3.5M467.76,184v-3.5M467.76,30v3.5M486.92,184v-3.5M486.92,30v3.5M506.08,184v-3.5M506.08,30v3.5M525.24,184v-3.5M525.24,30v3.5M544.4,184v-3.5M544.4,30v3.5M362.38,184v-2M362.38,30v2M381.54,184v-2M381.54,30v2M400.7,184v-2M400.7,30v2M419.86,184v-2M419.86,30v2M439.02,184v-2M439.02,30v2M458.18,184v-2M458.18,30v2M477.34,184v-2M477.34,30v2M496.5,184v-2M496.5,30v2M515.66,184v-2M515.66,30v2M534.82,184v-2M534.82,30v2M352.7,181.7h3.5M544.4,181.7h-3.5M352.7,151.66h3.5M544.4,151.66h-3.5M352.7,121.62h3.5M544.4,121.62h-3.5M352.7,91.58h3.5M544.4,91.58h-3.5M352.7,61.54h3.5M544.4,61.54h-3.5M352.7,31.5h3.5M544.4,31.5h-3.5M352.7,166.68h2M544.4,166.68h-2M352.7,136.64h2M544.4,136.64h-2M352.7,106.6h2M544.4,106.6h-2M352.7,76.56h2M544.4,76.56h-2M352.7,46.52h2M544.4,46.52h-2" stroke="#555555" stroke-width="1.1" fill="none"/>
<text x="352.8" y="199.3" font-size="14" text-anchor="middle" fill="#000" >-5</text>
<text x="371.96" y="199.3" font-size="14" text-anchor="middle" fill="#000" >-4</text>
<text x="391.12" y="199.3" font-size="14" text-anchor="middle" fill="#000" >-3</text>
<text x="410.28" y="199.3" font-size="14" text-anchor="middle" fill="#000" >-2</text>
<text x="429.44" y="199.3" font-size="14" text-anchor="middle" fill="#000" >-1</text>
<text x="448.6" y="199.3" font-size="14" text-anchor="middle" fill="#000" >0</text>
<text x="467.76" y="199.3" font-size="14" text-anchor="middle" fill="#000" >1</text>
<text x="486.92" y="199.3" font-size="14" text-anchor="middle" fill="#000" >2</text>
<text x="506.08" y="199.3" font-size="14" text-anchor="middle" fill="#000" >3</text>
<text x="525.24" y="199.3" font-size="14" text-anchor="middle" fill="#000" >4</text>
<text x="544.4" y="199.3" font-size="14" text-anchor="middle" fill="#000" >5</text>
<text x="349" y="186.7" font-size="14" text-anchor="end" fill="#000" >0.0</text>
<text x="349" y="156.66" font-size="14" text-anchor="end" fill="#000" >0.2</text>
<text x="349" y="126.62" font-size="14" text-anchor="end" fill="#000" >0.4</text>
<text x="349" y="96.58" font-size="14" text-anchor="end" fill="#000" >0.6</text>
<text x="349" y="66.54" font-size="14" text-anchor="end" fill="#000" >0.8</text>
<text x="349" y="36.5" font-size="14" text-anchor="end" fill="#000" >1.0</text>
<text x="449" y="225.5" font-size="18.7" text-anchor="middle" fill="#000" >Normalized Input</text>
<text transform="translate(319,101.7) rotate(-90)" font-size="18.5" text-anchor="middle">Probability</text>
<text x="451" y="16.9" font-size="18" text-anchor="middle" fill="#000" textLength="20.4" lengthAdjust="spacingAndGlyphs">(b)</text>
<rect x="356.6" y="31.6" width="85.4" height="67.6" fill="#fff" stroke="#b0b0b0" stroke-width="1"/>
<path d="M358.2,38.9H384.5" stroke="#3c3c3c" stroke-width="2" stroke-dasharray="7.5 2.5 1.5 2.5"/>
<text x="387.3" y="43.3" font-size="11.2">V<tspan font-size="8.8" dy="2.6">DD</tspan><tspan dy="-2.6">=0.4 V</tspan></text>
<path d="M358.2,55.65H384.5" stroke="#f23030" stroke-width="2"/>
<text x="387.3" y="60.05" font-size="11.2">V<tspan font-size="8.8" dy="2.6">DD</tspan><tspan dy="-2.6">=0.5 V</tspan></text>
<path d="M358.2,72.4H384.5" stroke="#1a6ef0" stroke-width="2" stroke-dasharray="7.5 2.5 1.5 2.5"/>
<text x="387.3" y="76.8" font-size="11.2">V<tspan font-size="8.8" dy="2.6">DD</tspan><tspan dy="-2.6">=0.6 V</tspan></text>
<path d="M358.2,89.15H384.5" stroke="#10a050" stroke-width="2" stroke-dasharray="7.5 2.5 1.5 2.5"/>
<text x="387.3" y="93.55" font-size="11.2">V<tspan font-size="8.8" dy="2.6">DD</tspan><tspan dy="-2.6">=0.7 V</tspan></text>
<path d="M458,61.4H530" stroke="#000" stroke-width="1.9"/>
<path d="M529,58.8L534.8,61.4L529,64Z" fill="#000"/>
<text x="505.8" y="87.3" font-size="14">V<tspan font-size="9" dy="3.2" fill="#333">DD</tspan></text>
<path d="M533.2,90V78" stroke="#000" stroke-width="1.1"/><path d="M530.6,80.8L533.2,77.3L535.8,80.8" stroke="#000" stroke-width="1.1" fill="none"/>
<clipPath id="cc"><rect x="58.5" y="274.2" width="192.0" height="154.5"/></clipPath>
<g clip-path="url(#cc)">
<path d="M61.4,276.2 L64.57,278.62 L67.75,281.04 L70.92,283.45 L74.09,285.87 L77.26,288.28 L80.44,290.7 L83.61,293.11 L86.78,295.52 L89.96,297.93 L93.13,300.34 L96.3,302.75 L99.47,305.16 L102.65,307.61 L105.82,310.15 L108.99,312.68 L112.17,315.21 L115.34,317.74 L118.51,320.27 L121.68,322.79 L124.86,325.32 L128.03,327.85 L131.2,330.38 L134.38,332.9 L137.55,335.43 L140.72,337.93 L143.89,340.43 L147.07,342.92 L150.24,345.41 L153.41,347.91 L156.59,350.41 L159.76,352.92 L162.93,355.45 L166.11,358 L169.28,360.58 L172.45,363.18 L175.62,365.83 L178.8,368.53 L181.97,371.26 L185.14,374.02 L188.32,376.77 L191.49,379.5 L194.66,382.22 L197.83,384.94 L201.01,387.65 L204.18,390.37 L207.35,393.08 L210.53,395.79 L213.7,398.5 L216.87,401.21 L220.04,403.92 L223.22,406.62 L226.39,409.33 L229.56,412.03 L232.74,414.73 L235.91,417.43 L239.08,420.12 L242.25,422.82 L245.43,425.51 L248.6,428.2" stroke="#1414f0" stroke-width="2.4" fill="none" stroke-linejoin="round"/>
<path d="M61.4,274.6 L64.57,277.15 L67.75,279.69 L70.92,282.23 L74.09,284.77 L77.26,287.32 L80.44,289.86 L83.61,292.4 L86.78,294.93 L89.96,297.47 L93.13,300.01 L96.3,302.55 L99.47,305.08 L102.65,307.61 L105.82,310.15 L108.99,312.68 L112.17,315.21 L115.34,317.74 L118.51,320.27 L121.68,322.79 L124.86,325.32 L128.03,327.85 L131.2,330.38 L134.38,332.9 L137.55,335.43 L140.72,337.93 L143.89,340.43 L147.07,342.92 L150.24,345.41 L153.41,347.91 L156.59,350.41 L159.76,352.92 L162.93,355.45 L166.11,358 L169.28,360.58 L172.45,363.18 L175.62,365.83 L178.8,368.53 L181.97,371.26 L185.14,374.02 L188.32,376.77 L191.49,379.5 L194.66,382.22 L197.83,384.94 L201.01,387.65 L204.18,390.37 L207.35,393.08 L210.53,395.79 L213.7,398.5 L216.87,401.21 L220.04,403.92 L223.22,406.62 L226.39,409.33 L229.56,412.03 L232.74,414.73 L235.91,417.43 L239.08,420.12 L242.25,422.82 L245.43,425.51 L248.6,428.2" stroke="#f22a2a" stroke-width="2.0" fill="none" stroke-dasharray="7.5 2.5 1.5 2.5" stroke-linejoin="round"/>
</g>
<rect x="58.5" y="274.2" width="192" height="154.5" fill="none" stroke="#555555" stroke-width="1.1"/>
<path d="M61.4,428.7v-3.5M61.4,274.2v3.5M108.2,428.7v-3.5M108.2,274.2v3.5M155,428.7v-3.5M155,274.2v3.5M201.8,428.7v-3.5M201.8,274.2v3.5M248.6,428.7v-3.5M248.6,274.2v3.5M84.8,428.7v-2M84.8,274.2v2M131.6,428.7v-2M131.6,274.2v2M178.4,428.7v-2M178.4,274.2v2M225.2,428.7v-2M225.2,274.2v2M58.5,427h3.5M250.5,427h-3.5M58.5,390.5h3.5M250.5,390.5h-3.5M58.5,354h3.5M250.5,354h-3.5M58.5,317.5h3.5M250.5,317.5h-3.5M58.5,281h3.5M250.5,281h-3.5M58.5,408.75h2M250.5,408.75h-2M58.5,372.25h2M250.5,372.25h-2M58.5,335.75h2M250.5,335.75h-2M58.5,299.25h2M250.5,299.25h-2" stroke="#555555" stroke-width="1.1" fill="none"/>
<text x="61.4" y="443.5" font-size="14" text-anchor="middle" fill="#000" >-50</text>
<text x="108.2" y="443.5" font-size="14" text-anchor="middle" fill="#000" >-25</text>
<text x="155" y="443.5" font-size="14" text-anchor="middle" fill="#000" >0</text>
<text x="201.8" y="443.5" font-size="14" text-anchor="middle" fill="#000" >25</text>
<text x="248.6" y="443.5" font-size="14" text-anchor="middle" fill="#000" >50</text>
<text x="55" y="432" font-size="14" text-anchor="end" fill="#000" >450</text>
<text x="55" y="395.5" font-size="14" text-anchor="end" fill="#000" >500</text>
<text x="55" y="359" font-size="14" text-anchor="end" fill="#000" >550</text>
<text x="55" y="322.5" font-size="14" text-anchor="end" fill="#000" >600</text>
<text x="55" y="286" font-size="14" text-anchor="end" fill="#000" >650</text>
<text x="155.1" y="470.2" font-size="18.7" text-anchor="middle" fill="#000" >Temperature (°C)</text>
<text transform="translate(17,346.7) rotate(-90)" font-size="18.5" text-anchor="middle">V<tspan font-size="13.5" dy="4">DD</tspan><tspan dy="-4"> (mV)</tspan></text>
<text x="155" y="254.9" font-size="18" text-anchor="middle" fill="#000" textLength="20.4" lengthAdjust="spacingAndGlyphs">(c)</text>
<rect x="119.6" y="277.5" width="127.1" height="29.2" fill="#fff" stroke="#b0b0b0" stroke-width="1"/>
<path d="M120.4,285.4H146.9" stroke="#1414f0" stroke-width="2"/>
<path d="M120.4,298.6H146.9" stroke="#f22a2a" stroke-width="2" stroke-dasharray="7.5 2.5 1.5 2.5"/>
<text x="150" y="289.6" font-size="11.2" text-anchor="start" fill="#000" >Real</text>
<text x="150" y="303.2" font-size="11.2" text-anchor="start" fill="#000" >Linear interpolation</text>
<clipPath id="cd"><rect x="354.3" y="273.3" width="184.2" height="154.8"/></clipPath>
<g clip-path="url(#cd)">
<path d="M357.2,383.86 L358.99,383.34 L360.78,382.82 L362.56,382.32 L364.35,381.83 L366.14,381.35 L367.93,380.89 L369.72,380.46 L371.5,380.04 L373.29,379.64 L375.08,379.27 L376.87,378.92 L378.66,378.58 L380.44,378.24 L382.23,377.92 L384.02,377.6 L385.81,377.29 L387.6,377 L389.38,376.71 L391.17,376.43 L392.96,376.17 L394.75,375.92 L396.54,375.67 L398.32,375.45 L400.11,375.23 L401.9,375.03 L403.69,374.84 L405.48,374.64 L407.26,374.44 L409.05,374.24 L410.84,374.04 L412.63,373.84 L414.42,373.65 L416.2,373.45 L417.99,373.26 L419.78,373.08 L421.57,372.9 L423.36,372.73 L425.14,372.57 L426.93,372.41 L428.72,372.26 L430.51,372.13 L432.3,372 L434.08,371.89 L435.87,371.78 L437.66,371.69 L439.45,371.62 L441.24,371.56 L443.02,371.52 L444.81,371.49 L446.6,371.48 L448.39,371.48 L450.18,371.48 L451.96,371.48 L453.75,371.48 L455.54,371.48 L457.33,371.48 L459.12,371.48 L460.9,371.48 L462.69,371.48 L464.48,371.48 L466.27,371.48 L468.06,371.48 L469.84,371.48 L471.63,371.48 L473.42,371.48 L475.21,371.5 L477,371.55 L478.78,371.63 L480.57,371.73 L482.36,371.85 L484.15,371.98 L485.94,372.12 L487.72,372.26 L489.51,372.4 L491.3,372.52 L493.09,372.64 L494.88,372.76 L496.66,372.88 L498.45,373 L500.24,373.13 L502.03,373.26 L503.82,373.39 L505.6,373.52 L507.39,373.65 L509.18,373.79 L510.97,373.92 L512.76,374.06 L514.54,374.2 L516.33,374.35 L518.12,374.49 L519.91,374.64 L521.7,374.79 L523.48,374.94 L525.27,375.1 L527.06,375.25 L528.85,375.41 L530.64,375.57 L532.42,375.74 L534.21,375.9 L536,376.07" stroke="#f01010" stroke-width="2.2" fill="none" stroke-linejoin="round"/>
<path d="M357.2,283.69 L358.99,284.88 L360.78,286.07 L362.56,287.26 L364.35,288.46 L366.14,289.67 L367.93,290.88 L369.72,292.09 L371.5,293.31 L373.29,294.53 L375.08,295.76 L376.87,296.99 L378.66,298.22 L380.44,299.46 L382.23,300.71 L384.02,301.96 L385.81,303.21 L387.6,304.47 L389.38,305.73 L391.17,307 L392.96,308.27 L394.75,309.55 L396.54,310.83 L398.32,312.12 L400.11,313.41 L401.9,314.7 L403.69,316 L405.48,317.31 L407.26,318.62 L409.05,319.93 L410.84,321.25 L412.63,322.57 L414.42,323.9 L416.2,325.23 L417.99,326.57 L419.78,327.91 L421.57,329.25 L423.36,330.6 L425.14,331.96 L426.93,333.32 L428.72,334.68 L430.51,336.05 L432.3,337.42 L434.08,338.8 L435.87,340.18 L437.66,341.57 L439.45,342.96 L441.24,344.36 L443.02,345.76 L444.81,347.16 L446.6,348.57 L448.39,349.99 L450.18,351.4 L451.96,352.83 L453.75,354.26 L455.54,355.69 L457.33,357.13 L459.12,358.57 L460.9,360.01 L462.69,361.46 L464.48,362.92 L466.27,364.38 L468.06,365.84 L469.84,367.31 L471.63,368.79 L473.42,370.26 L475.21,371.75 L477,373.23 L478.78,374.73 L480.57,376.22 L482.36,377.72 L484.15,379.23 L485.94,380.74 L487.72,382.25 L489.51,383.77 L491.3,385.3 L493.09,386.82 L494.88,388.36 L496.66,389.9 L498.45,391.44 L500.24,392.98 L502.03,394.54 L503.82,396.09 L505.6,397.65 L507.39,399.22 L509.18,400.79 L510.97,402.36 L512.76,403.94 L514.54,405.52 L516.33,407.11 L518.12,408.7 L519.91,410.3 L521.7,411.9 L523.48,413.51 L525.27,415.12 L527.06,416.73 L528.85,418.35 L530.64,419.98 L532.42,421.61 L534.21,423.24 L536,424.88" stroke="#1010f0" stroke-width="2.2" fill="none" stroke-linejoin="round"/>
</g>
<rect x="354.3" y="273.3" width="184.2" height="154.8" fill="none" stroke="#555555" stroke-width="1.1"/>
<path d="M357.2,428.1v-3.5M357.2,273.3v3.5M401.9,428.1v-3.5M401.9,273.3v3.5M446.6,428.1v-3.5M446.6,273.3v3.5M491.3,428.1v-3.5M491.3,273.3v3.5M536,428.1v-3.5M536,273.3v3.5M379.55,428.1v-2M379.55,273.3v2M424.25,428.1v-2M424.25,273.3v2M468.95,428.1v-2M468.95,273.3v2M513.65,428.1v-2M513.65,273.3v2M354.3,415.3h3.5M538.5,415.3h-3.5M354.3,372h3.5M538.5,372h-3.5M354.3,328.7h3.5M538.5,328.7h-3.5M354.3,285.4h3.5M538.5,285.4h-3.5M354.3,393.65h2M538.5,393.65h-2M354.3,350.35h2M538.5,350.35h-2M354.3,307.05h2M538.5,307.05h-2" stroke="#555555" stroke-width="1.1" fill="none"/>
<text x="357.2" y="443.5" font-size="14" text-anchor="middle" fill="#000" >-50</text>
<text x="401.9" y="443.5" font-size="14" text-anchor="middle" fill="#000" >-25</text>
<text x="446.6" y="443.5" font-size="14" text-anchor="middle" fill="#000" >0</text>
<text x="491.3" y="443.5" font-size="14" text-anchor="middle" fill="#000" >25</text>
<text x="536" y="443.5" font-size="14" text-anchor="middle" fill="#000" >50</text>
<text x="350.8" y="420" font-size="14" text-anchor="end" fill="#000" >0.95</text>
<text x="350.8" y="376.7" font-size="14" text-anchor="end" fill="#000" >1.00</text>
<text x="350.8" y="333.4" font-size="14" text-anchor="end" fill="#000" >1.05</text>
<text x="350.8" y="290.1" font-size="14" text-anchor="end" fill="#000" >1.10</text>
<text x="447.1" y="470.2" font-size="18.7" text-anchor="middle" fill="#000" >Temperature (°C)</text>
<text transform="translate(311.3,347) rotate(-90)" font-size="18.5" text-anchor="middle">α(T)</text>
<text x="451" y="254.9" font-size="18" text-anchor="middle" fill="#000" textLength="20.4" lengthAdjust="spacingAndGlyphs">(d)</text>
<rect x="481.3" y="275.5" width="53.2" height="20.5" fill="#fff" stroke="#b0b0b0" stroke-width="0.8"/>
<path d="M482.4,281.3H500" stroke="#f01010" stroke-width="1.8"/>
<path d="M482.4,290.9H500" stroke="#1010f0" stroke-width="1.8"/>
<text x="501.8" y="284.3" font-size="8.6" textLength="31.6" lengthAdjust="spacingAndGlyphs">Proposed</text>
<text x="501.8" y="293.9" font-size="8.6" textLength="22.6" lengthAdjust="spacingAndGlyphs">Elfadel</text>
</svg></body></html>
